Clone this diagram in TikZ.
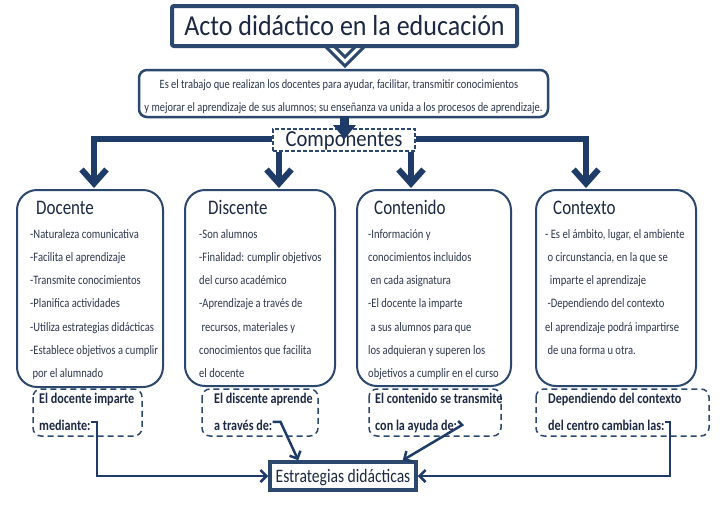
\documentclass[tikz,border=0pt]{standalone}
\usepackage{fontspec}
\setmainfont{Carlito}
\newfontfamily\narrowfont[FakeStretch=0.82]{Carlito}
\newfontfamily\headfont[FakeStretch=0.9]{Carlito}
\usetikzlibrary{arrows.meta,calc}
\definecolor{navy}{RGB}{31,60,105}
\definecolor{border}{RGB}{45,72,110}
\definecolor{titlecol}{RGB}{28,40,68}
\definecolor{itemcol}{RGB}{45,55,80}
\tikzset{
  item/.style={anchor=base west, inner sep=0pt, text=itemcol, font=\narrowfont\fontsize{12.9}{14}\selectfont},
  btitle/.style={anchor=base west, inner sep=0pt, text=titlecol, font=\narrowfont\fontsize{20.7}{24}\selectfont},
  btext/.style={anchor=base west, inner sep=0pt, text=titlecol, font=\narrowfont\fontsize{14.8}{16}\selectfont\bfseries},
  desctext/.style={anchor=base, inner sep=0pt, text=itemcol, font=\narrowfont\fontsize{12.7}{14}\selectfont},
  rbox/.style={draw=border, line width=2pt, rounded corners=20pt},
  dbox/.style={draw=border, line width=1.5pt, dash pattern=on 6pt off 4pt, rounded corners=8pt},
  thick arrow/.style={draw=navy, line width=6pt, -{Straight Barb[length=14pt,width=25pt]}},
  thin arrow/.style={draw=navy, line width=2.5pt, -{Straight Barb[length=6pt,width=12pt]}},
}
\begin{document}
\begin{tikzpicture}[x=1pt,y=-1pt]
\useasboundingbox (0,0) rectangle (728,515);
\fill[white] (0,0) rectangle (728,515);

% chevron (callout tab under the title)
\draw[draw=border, line width=3pt, fill=white, line join=miter] (325,46)--(334,46)--(345,57)--(356,46)--(365,46)--(345,66)--cycle;
% title
\draw[draw=border, line width=4pt, fill=white, rounded corners=2pt] (172,6) rectangle (517,46);
\node[anchor=base, inner sep=0pt, text=titlecol, font=\headfont\fontsize{28.9}{32}\selectfont] (title) at (344.5,35) {Acto didáctico en la educación};

% description box
\node[draw=border, line width=2.5pt, rounded corners=8pt, minimum width=409pt, minimum height=47pt, inner sep=0pt] (desc) at (343.5,93.5) {};
\node[desctext] (d1) at (339,88.5) {Es el trabajo que realizan los docentes para ayudar, facilitar, transmitir conocimientos};
\node[desctext] (d2) at (343.5,111) {y mejorar el aprendizaje de sus alumnos; su enseñanza va unida a los procesos de aprendizaje.};

% Componentes
\node[draw=border, line width=1.5pt, dash pattern=on 4pt off 2pt, minimum width=142pt, minimum height=22pt, inner sep=0pt] (comp) at (344,140) {};
\node[anchor=base, inner sep=0pt, text=titlecol, font=\headfont\fontsize{22.9}{26}\selectfont] (compt) at (344,146.5) {Componentes};
% block arrow desc -> comp
\fill[navy] (340,116) rectangle (349,126);
\fill[navy] (333,125)--(356,125)--(344.5,139)--cycle;

% four boxes
\draw[rbox] (17,190) rectangle (163,387);
\draw[rbox] (185,190) rectangle (335,386);
\draw[rbox] (357,190) rectangle (511,386);
\draw[rbox] (536,190) rectangle (696,386);
\coordinate (docTop) at (94,188);
\coordinate (disTop) at (279,188);
\coordinate (conTop) at (411,188);
\coordinate (ctxTop) at (586,188);

% thick connectors
\draw[thick arrow] (comp.west |- 0,139) -- (94,139) -- (docTop);
\draw[thick arrow] (comp.east |- 0,139) -- (586,139) -- (ctxTop);
\draw[thick arrow] (comp.south -| disTop) -- (disTop);
\draw[thick arrow] (comp.south -| conTop) -- (conTop);

% titles
\node[btitle] (tdoc) at (36,214) {Docente};
\node[btitle] (tdis) at (208,214) {Discente};
\node[btitle] (tcon) at (374,214) {Contenido};
\node[btitle] (tctx) at (553,214) {Contexto};

% items
\foreach \t [count=\i] in {{-Naturaleza comunicativa},{-Facilita el aprendizaje},{-Transmite conocimientos},{-Planifica actividades},{-Utiliza estrategias didácticas},{-Establece objetivos a cumplir},{\ por el alumnado}}
  \node[item] (doc\i) at (30,238+23.3*\i-23.3) {\t};
\foreach \t [count=\i] in {{-Son alumnos},{-Finalidad: cumplir objetivos},{del curso académico},{-Aprendizaje a través de},{\ recursos, materiales y},{conocimientos que facilita},{el docente}}
  \node[item] (dis\i) at (199,238+23.3*\i-23.3) {\t};
\foreach \t [count=\i] in {{-Información y},{conocimientos incluidos},{\ en cada asignatura},{-El docente la imparte},{\ a sus alumnos para que},{los adquieran y superen los},{objetivos a cumplir en el curso}}
  \node[item] (con\i) at (368,238+23.3*\i-23.3) {\t};
\foreach \t [count=\i] in {{- Es el ámbito, lugar, el ambiente},{\ o circunstancia, en la que se},{\ \ imparte el aprendizaje},{\ -Dependiendo del contexto},{el aprendizaje podrá impartirse},{\ de una forma u otra.}}
  \node[item] (ctx\i) at (545,238+23.3*\i-23.3) {\t};

% dashed boxes
\draw[dbox] (33,389) rectangle (142,436);
\draw[dbox] (202,389) rectangle (318,436);
\draw[dbox] (369,389) rectangle (501,436);
\draw[dbox] (536,389) rectangle (709,436);
\node[btext] (a1) at (39,403.5) {El docente imparte};
\node[btext] (a2) at (39,430) {mediante:};
\node[btext] (b1) at (214,403.5) {El discente aprende};
\node[btext] (b2) at (214,430) {a través de:};
\node[btext] (c1) at (375,403.5) {El contenido se transmite};
\node[btext] (c2) at (375,430) {con la ayuda de:};
\node[btext] (e1) at (548,403.5) {Dependiendo del contexto};
\node[btext] (e2) at (548,430) {del centro cambian las:};

% Estrategias
\node[draw=border, line width=3.5pt, minimum width=146pt, minimum height=28pt, inner sep=0pt] (estr) at (343,476) {};
\node[anchor=base, inner sep=0pt, text=titlecol, font=\narrowfont\fontsize{19}{22}\selectfont] (estrt) at (343,482) {Estrategias didácticas};

% thin connectors
\draw[thin arrow] ($(a2.east)+(0,-3)$) -- ++(6,0) |- (estr.west);
\draw[thin arrow] ($(b2.east)+(0,-3)$) -- ++(8,0) -- ($(estr.north west)+(30,0)$);
\draw[thin arrow] ($(c2.east)+(1,-5)$) -- ++(4,4) -- ($(estr.north east)+(-15,0)$);
\draw[thin arrow] ($(e2.east)+(0,-3)$) -- ++(5,0) |- (estr.east);
\end{tikzpicture}
\end{document}
